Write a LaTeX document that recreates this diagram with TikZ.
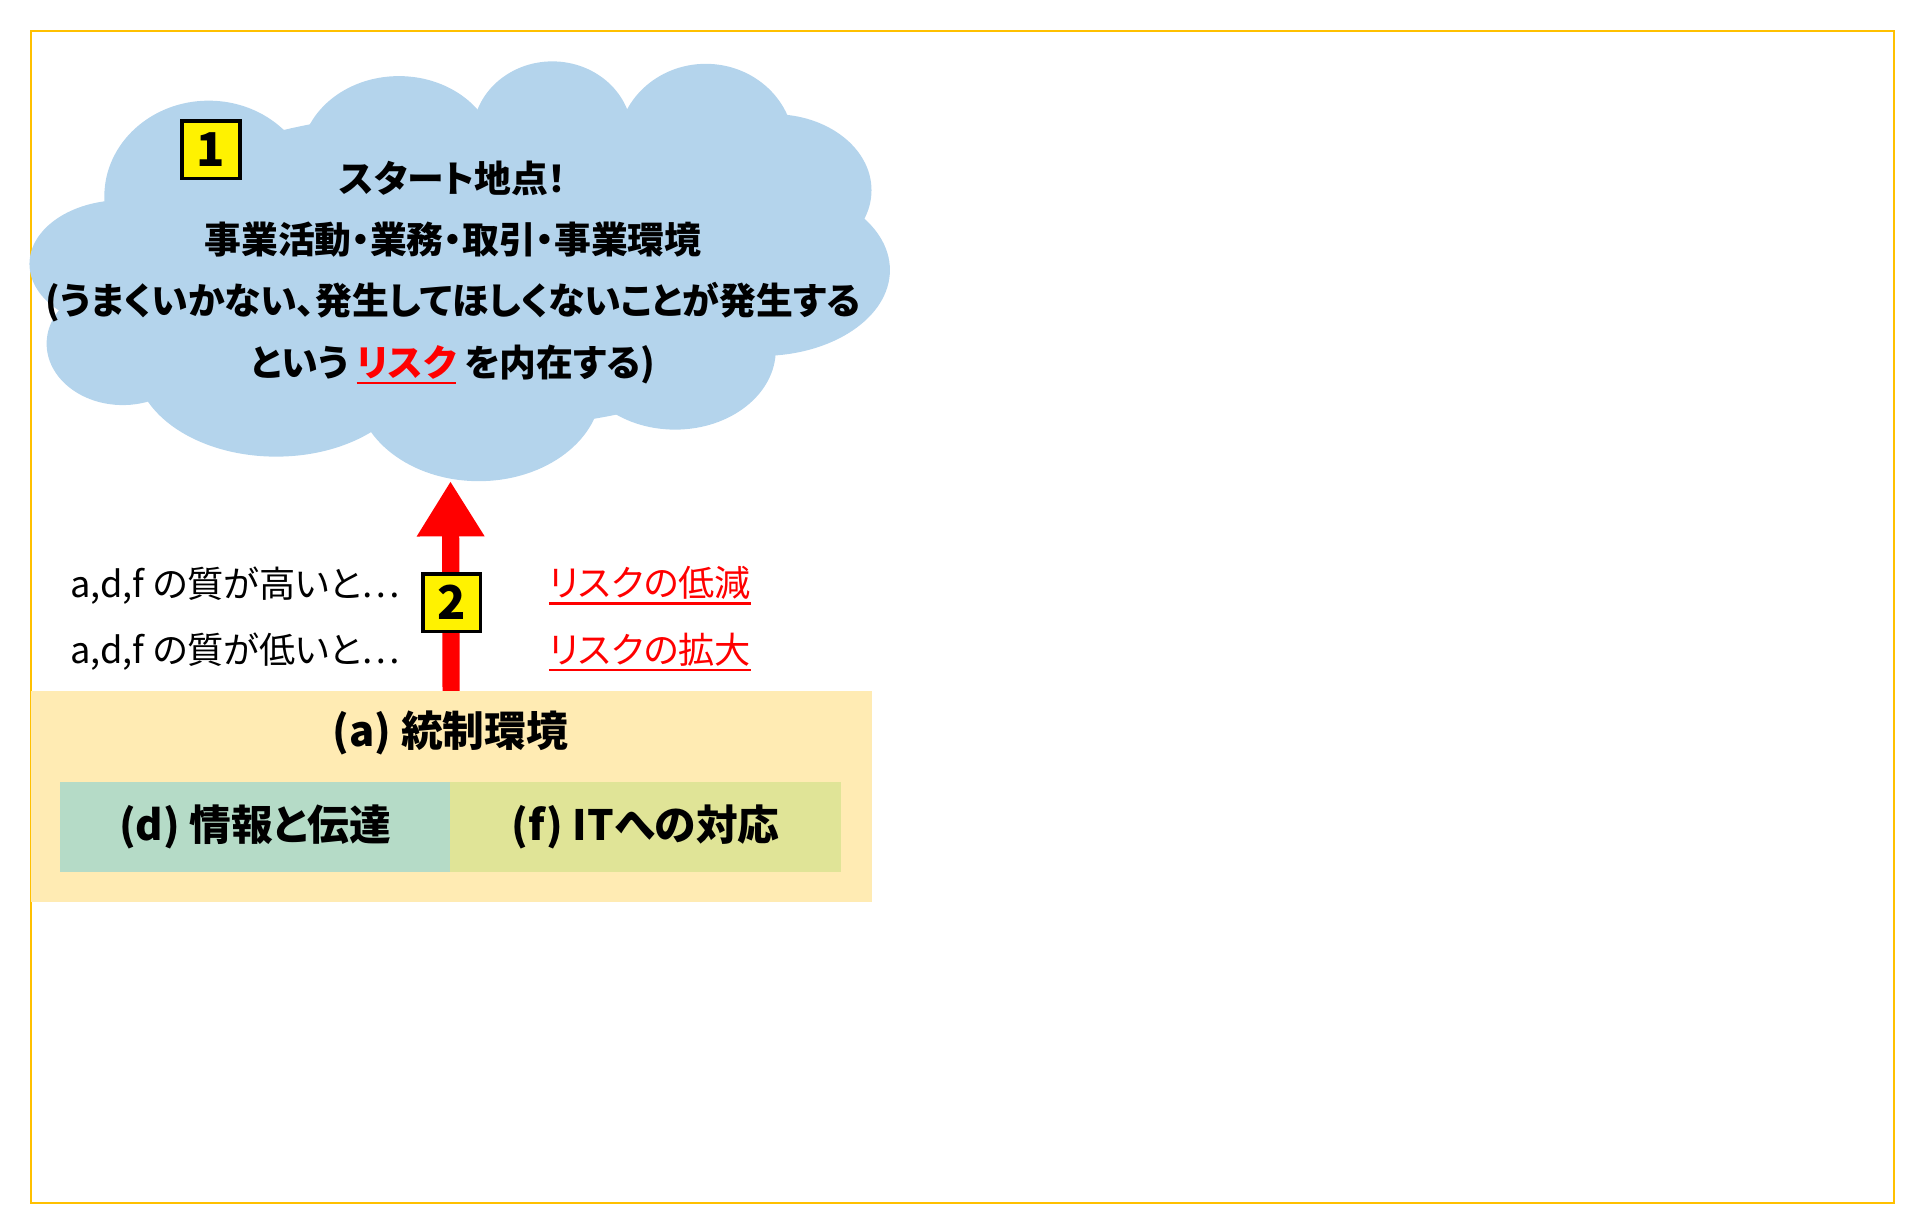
\documentclass[tikz,border=0pt]{standalone}
\usepackage{fontspec}
\setmainfont{Noto Sans CJK JP}[RawFeature=+palt]
\usetikzlibrary{arrows.meta}
\definecolor{framegold}{RGB}{255,192,0}
\definecolor{cloudblue}{RGB}{180,212,236}
\definecolor{envyellow}{RGB}{255,235,179}
\definecolor{infogreen}{RGB}{181,219,199}
\definecolor{itolive}{RGB}{224,228,151}
\newcommand{\riskul}[1]{\textcolor{red}{\setbox0\hbox{#1}\rlap{\rule[-0.22em]{\wd0}{1.8pt}}\box0}}
\tikzset{badge/.style={draw=black, line width=3pt, fill=yellow, minimum width=47pt, minimum height=47pt, inner sep=0pt, font=\fontsize{38}{38}\selectfont\bfseries}}
\tikzset{puff/.style={fill=cloudblue}}
\tikzset{cloudtext/.style={align=center, inner sep=0pt, font=\fontsize{30}{50}\selectfont\bfseries}}
\tikzset{qualtext/.style={anchor=west, inner sep=0pt, font=\fontsize{29.5}{30}\selectfont}}
\tikzset{ctrltext/.style={inner sep=0pt, font=\fontsize{34}{34}\selectfont\bfseries}}
\tikzset{subbox/.style={minimum width=318pt, minimum height=73pt, inner sep=0pt, font=\fontsize{34}{34}\selectfont\bfseries}}
\tikzset{bigarrow/.style={-{Triangle[width=52pt,length=45pt]}, line width=14pt, red}}

\begin{document}
\begin{tikzpicture}[x=1pt,y=-1pt]
  \useasboundingbox (0,0) rectangle (1565,1003);
  \draw[framegold, line width=1.5pt] (25,25) rectangle (1543,980);

  % cloud
  \fill[puff] (375,220) ellipse [x radius=300, y radius=130];
  \foreach \cx/\cy/\rx/\ry in {170/160/85/78, 325/130/80/68, 450/110/65/60, 575/120/72/68,
      630/155/80/62, 620/220/105/70, 550/285/82/65, 390/315/100/77,
      225/295/115/77, 100/280/62/50, 100/215/76/52}
    \fill[puff] (\cx,\cy) ellipse [x radius=\rx, y radius=\ry];
  \coordinate (cloudtip) at (367,392);
  \node (one) at (172,122)[badge]{1};
  \node (start) at (369,222)[cloudtext]{スタート地点！\\事業活動・業務・取引・事業環境\\(うまくいかない、発生してほしくないことが発生する\\という \riskul{リスク} を内在する)};

  \node (aenv) at (367.5,649)[fill=envyellow, minimum width=685pt, minimum height=172pt, inner sep=0pt]{};
  \node (aenvtitle) at (367,597)[ctrltext]{(a) 統制環境};
  \node (info) at (208,673.5)[subbox, fill=infogreen]{(d) 情報と伝達};
  \node (itresp) at (526,673.5)[subbox, fill=itolive]{(f) ITへの対応};

  \draw[bigarrow] (aenv.north) -- (cloudtip);
  \node (two) at (368,491)[badge]{2};

  \node (high) at (57,477)[qualtext]{a,d,f の質が高いと…};
  \node (low) at (57,531)[qualtext]{a,d,f の質が低いと…};
  \node (reduce) at (447,477)[qualtext]{\riskul{リスクの低減}};
  \node (expand) at (447,531)[qualtext]{\riskul{リスクの拡大}};
\end{tikzpicture}
\end{document}
